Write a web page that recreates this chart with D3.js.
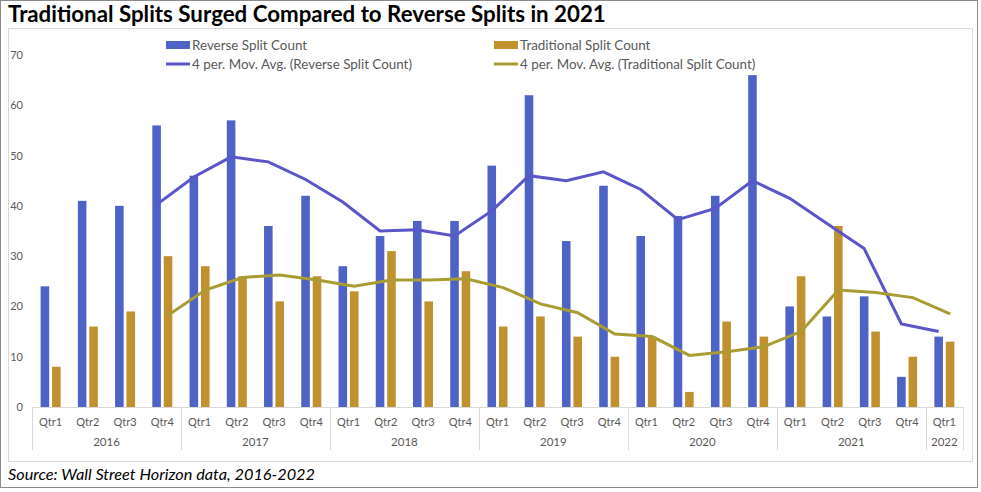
<!DOCTYPE html>
<html><head><meta charset="utf-8">
<script src="https://cdn.jsdelivr.net/npm/d3@7"></script>
<style>body{margin:0;background:#fff}svg{display:block}</style>
</head><body>
<svg id="c" width="981" height="492"></svg>
<script>
const quarters = ["Qtr1","Qtr2","Qtr3","Qtr4","Qtr1","Qtr2","Qtr3","Qtr4","Qtr1","Qtr2","Qtr3","Qtr4","Qtr1","Qtr2","Qtr3","Qtr4","Qtr1","Qtr2","Qtr3","Qtr4","Qtr1","Qtr2","Qtr3","Qtr4","Qtr1"];
const years = ["2016","2016","2016","2016","2017","2017","2017","2017","2018","2018","2018","2018","2019","2019","2019","2019","2020","2020","2020","2020","2021","2021","2021","2021","2022"];
const reverseCount = [24,41,40,56,46,57,36,42,28,34,37,37,48,62,33,44,34,38,42,66,20,18,22,6,14];
const traditionalCount = [8,16,19,30,28,26,21,26,23,31,21,27,16,18,14,10,14,3,17,14,26,36,15,10,13];
const reverseMA = [null,null,null,40.25,45.75,49.75,48.75,45.25,40.75,35,35.25,34,39,46,45,46.75,43.25,37.25,39.5,45,41.5,36.5,31.5,16.5,15];
const traditionalMA = [null,null,null,18.25,23.25,25.75,26.25,25.25,24,25.25,25.25,25.5,23.75,20.5,18.75,14.5,14,10.25,11,12,15,23.25,22.75,21.75,18.5];
const yTicks = [0,10,20,30,40,50,60,70];
const seriesNames = ["Reverse Split Count","Traditional Split Count","4 per. Mov. Avg. (Reverse Split Count)","4 per. Mov. Avg. (Traditional Split Count)"];

const colBlue = "#4f62c6", colGold = "#bf922f", lineBlue = "#5a55c8", lineOlive = "#a89c33";
const txt = "#595959";
const font = "Lato, 'Open Sans', sans-serif";

const svg = d3.select("#c");
svg.append("rect").attr("x",0.5).attr("y",0.5).attr("width",977).attr("height",487).attr("fill","none").attr("stroke","#8c8c8c");
svg.append("rect").attr("x",8.5).attr("y",28.5).attr("width",964).attr("height",433).attr("fill","none").attr("stroke","#d9d9d9");

svg.append("text").attr("x",8).attr("y",22).attr("font-family",font).attr("font-weight","bold")
  .attr("font-size",22.3).attr("fill","#000").text("Traditional Splits Surged Compared to Reverse Splits in 2021");

const idx = d3.range(quarters.length);
const x = d3.scaleBand().domain(idx).range([32,963]).paddingInner(0).paddingOuter(0);
const bw = x.bandwidth();
const xs = d3.scaleBand().domain(["rev","trad"]).range([bw*0.231, bw*0.768]).paddingInner(0.25);
const y = d3.scaleLinear().domain([0,70]).range([407,55]);

const yAxis = d3.axisLeft(y).tickValues(yTicks).tickSize(0).tickPadding(0);
const gy = svg.append("g").attr("transform","translate(23,0)").call(yAxis);
gy.select(".domain").remove();
gy.selectAll("text").attr("font-family",font).attr("font-size",11).attr("fill",txt);

const g = svg.append("g");
g.selectAll(".rb").data(idx).join("rect").attr("class","rb")
  .attr("x",i=>x(i)+xs("rev")).attr("width",xs.bandwidth())
  .attr("y",i=>y(reverseCount[i])).attr("height",i=>y(0)-y(reverseCount[i])).attr("fill",colBlue);
g.selectAll(".tb").data(idx).join("rect").attr("class","tb")
  .attr("x",i=>x(i)+xs("trad")).attr("width",xs.bandwidth())
  .attr("y",i=>y(traditionalCount[i])).attr("height",i=>y(0)-y(traditionalCount[i])).attr("fill",colGold);

const lineR = d3.line().x(i=>x(i)+xs("rev")+xs.bandwidth()/2).y(i=>y(reverseMA[i]));
const lineT = d3.line().x(i=>x(i)+xs("trad")+xs.bandwidth()/2).y(i=>y(traditionalMA[i]));
svg.append("path").attr("d",lineR(idx.filter(i=>reverseMA[i]!=null))).attr("fill","none").attr("stroke",lineBlue).attr("stroke-width",3);
svg.append("path").attr("d",lineT(idx.filter(i=>traditionalMA[i]!=null))).attr("fill","none").attr("stroke",lineOlive).attr("stroke-width",3);

const ax = svg.append("g");
ax.append("line").attr("x1",32).attr("x2",963).attr("y1",407.5).attr("y2",407.5).attr("stroke","#d9d9d9");
const yearList = Array.from(new Set(years));
const bounds = [0];
yearList.forEach(yr=>{ bounds.push(years.lastIndexOf(yr)+1); });
bounds.forEach(b=>{
  const xx = b<quarters.length ? x(b) : x.range()[1];
  ax.append("line").attr("x1",Math.round(xx)+0.5).attr("x2",Math.round(xx)+0.5).attr("y1",407).attr("y2",450).attr("stroke","#d9d9d9");
});
ax.selectAll(".ql").data(idx).join("text").attr("class","ql")
  .attr("x",i=>x(i)+bw/2).attr("y",426).attr("text-anchor","middle")
  .attr("font-family",font).attr("font-size",11).attr("fill",txt).text(i=>quarters[i]);
yearList.forEach(yr=>{
  const a = years.indexOf(yr), b = years.lastIndexOf(yr);
  ax.append("text").attr("x",(x(a)+x(b)+bw)/2).attr("y",446).attr("text-anchor","middle")
    .attr("font-family",font).attr("font-size",11.5).attr("fill",txt).text(yr);
});

const leg = svg.append("g").attr("font-family",font).attr("font-size",13.4).attr("fill",txt);
const legItems = [
  {x:166,y:45,type:"rect",c:colBlue,t:seriesNames[0]},
  {x:494,y:45,type:"rect",c:colGold,t:seriesNames[1]},
  {x:166,y:64,type:"line",c:lineBlue,t:seriesNames[2]},
  {x:494,y:64,type:"line",c:lineOlive,t:seriesNames[3]}
];
legItems.forEach(d=>{
  if(d.type==="rect") leg.append("rect").attr("x",d.x).attr("y",d.y-4).attr("width",24).attr("height",8).attr("fill",d.c);
  else leg.append("line").attr("x1",d.x).attr("x2",d.x+24).attr("y1",d.y).attr("y2",d.y).attr("stroke",d.c).attr("stroke-width",3);
  leg.append("text").attr("x",d.x+26).attr("y",d.y+4.5).attr("fill",txt).text(d.t);
});

svg.append("text").attr("x",8).attr("y",480).attr("font-family",font).attr("font-style","italic")
  .attr("font-size",16.3).attr("fill","#000").text("Source: Wall Street Horizon data, 2016-2022");
</script>
</body></html>
